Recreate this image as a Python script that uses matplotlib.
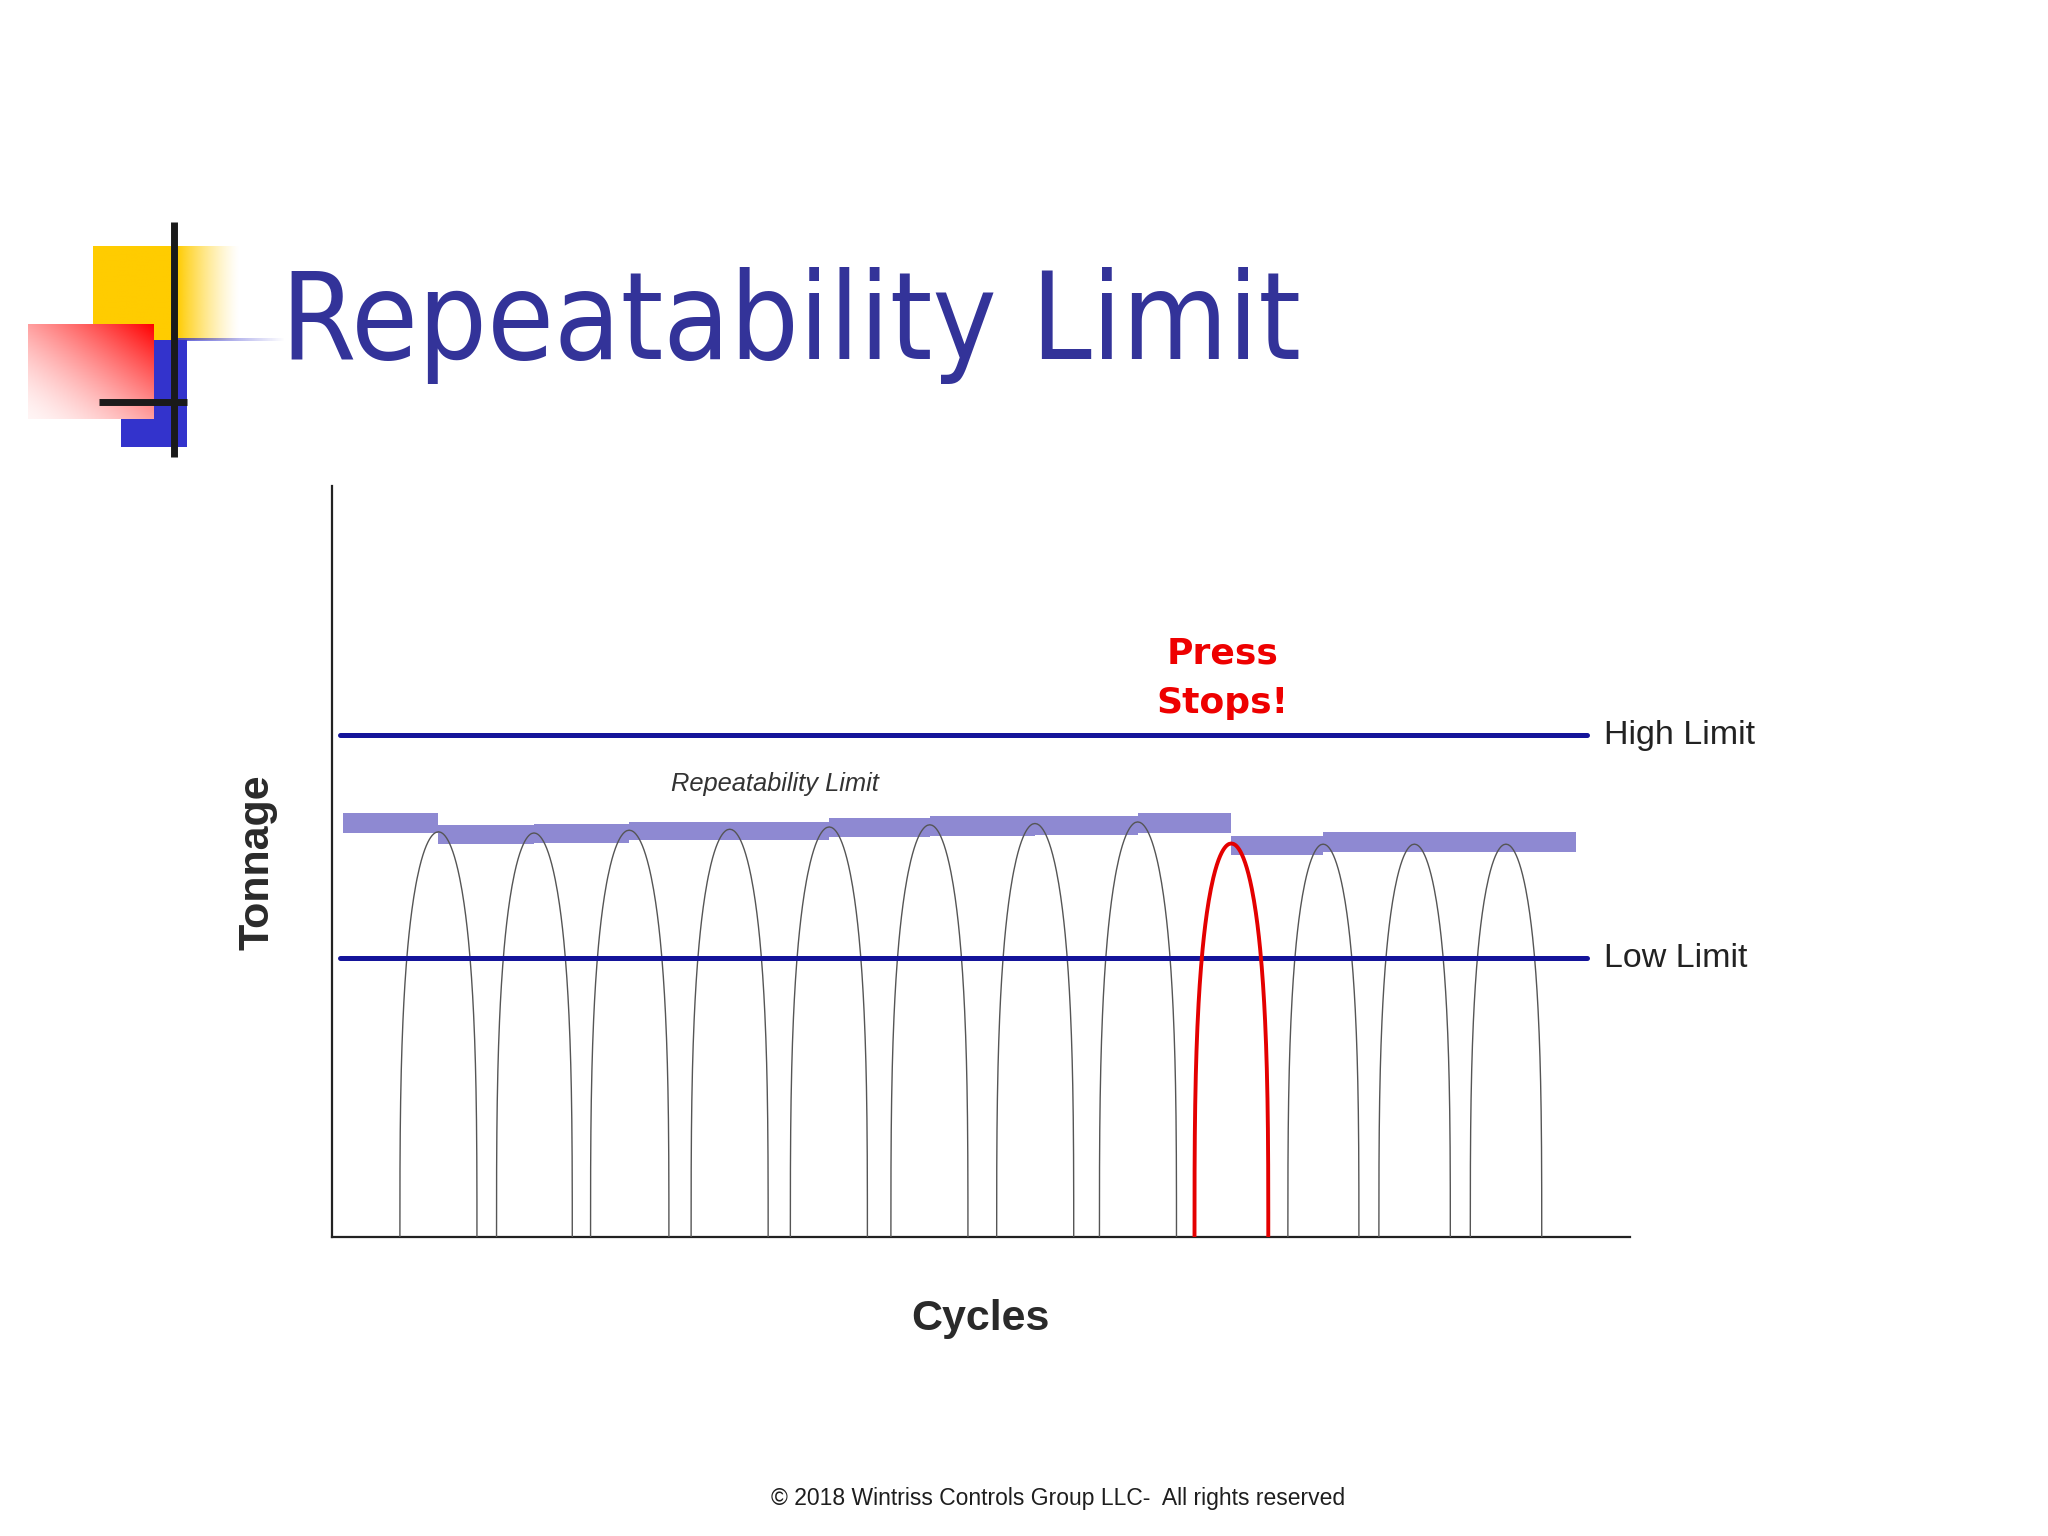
import numpy as np
import matplotlib
matplotlib.use("Agg")
import matplotlib.pyplot as plt
from matplotlib.patches import Rectangle

# ---------------- data (x in cycle-axis units, y in tonnage units 0-100) ----------------
curve_left  = [5.2, 12.6, 19.8, 27.5, 35.1, 42.8, 50.9, 58.77, 66.05, 73.2, 80.17, 87.17]
curve_peak_x = [8.15, 15.47, 22.76, 30.46, 38.08, 45.78, 53.83, 61.7, 68.87, 75.9, 82.89, 89.9]
curve_right = [11.1, 18.4, 25.8, 33.4, 41.0, 48.7, 56.8, 64.67, 71.7, 78.64, 85.64, 92.64]
curve_peak  = [53.95, 53.8, 54.17, 54.3, 54.6, 54.89, 55.06, 55.27, 52.4, 52.31, 52.31, 52.31]
stop_index = 8  # cycle on which the press stops (red)

band_x0     = [0.85, 8.15, 15.47, 22.76, 38.08, 45.78, 53.83, 61.7, 68.87, 75.9]
band_x1     = [8.15, 15.47, 22.76, 38.08, 45.78, 53.83, 61.7, 68.87, 75.9, 95.3]
band_top    = [56.42, 54.89, 55.03, 55.32, 55.83, 56.0, 56.12, 56.4, 53.46, 53.91]
band_bottom = [53.84, 52.31, 52.45, 52.82, 53.32, 53.46, 53.53, 53.77, 50.92, 51.32]

high_limit = 66.78
low_limit = 37.13
limit_x = [0.6, 96.1]

title = "Repeatability Limit"
copyright_text = "\u00a9 2018 Wintriss Controls Group LLC-  All rights reserved"

# ---------------- figure ----------------
W, H = 2048, 1536
fig = plt.figure(figsize=(W / 100, H / 100), dpi=100)
fig.patch.set_facecolor("white")

# decoration layer in pixel coordinates
deco = fig.add_axes([0, 0, 1, 1], zorder=0)
deco.set_axis_off()

def fade(color, amount):
    """opaque blend of white -> color by amount (0..1)"""
    c = np.array(matplotlib.colors.to_rgb(color))
    rgb = 1 - amount[..., None] * (1 - c)
    return rgb

def grad(color, alpha):
    rgba = np.zeros(alpha.shape + (4,))
    rgba[..., :3] = matplotlib.colors.to_rgb(color)
    rgba[..., 3] = alpha
    return rgba

# yellow square with fade to the right
xs = np.linspace(93, 240, 300)
a = np.clip((240 - xs) / (240 - 177), 0, 1)
a = np.where(xs < 177, 1.0, a ** 1.3)
deco.imshow(grad("#ffcc00", np.tile(a, (10, 1))), extent=(93, 240, 340, 246),
            aspect="auto", interpolation="bilinear", zorder=1)
# thin blue line fading right
xs2 = np.linspace(0, 1, 200)
deco.imshow(grad("#3333cc", np.tile(1 - xs2, (3, 1)) * 0.8), extent=(177, 285, 341.5, 339),
            aspect="auto", interpolation="bilinear", zorder=1)
# blue rectangle
deco.add_patch(Rectangle((121, 340), 66, 107, facecolor="#3333cc", edgecolor="none", zorder=2))
# red gradient rectangle (opaque, white -> red towards top-right)
u = np.linspace(0, 1, 200)[None, :]
v = np.linspace(0, 1, 160)[:, None]
ra = np.clip(0.04 + 0.96 * ((u + (1 - v)) / 2) ** 1.5, 0, 1)
deco.imshow(fade("#ff0000", ra), extent=(28, 154, 419, 324),
            aspect="auto", interpolation="bilinear", zorder=3)
# black lines
deco.plot([174, 174], [222, 457], color="#1a1a1a", lw=5.0, solid_capstyle="butt", zorder=4)
deco.plot([99, 187], [402, 402], color="#1a1a1a", lw=5.0, solid_capstyle="butt", zorder=4)
deco.set_xlim(0, W)
deco.set_ylim(H, 0)

# title and footer
fig.text(281 / W, 1 - 359 / H, title, fontsize=87, color="#333399",
         family="DejaVu Sans", fontstretch="condensed", va="baseline", ha="left")
fig.text(1058 / W, 1 - 1498 / H, copyright_text, fontsize=16.5, color="#1e1e1e",
         family="Liberation Sans", va="center", ha="center")

# ---------------- chart ----------------
ax = fig.add_axes([332 / W, 1 - 1237 / H, (1630 - 332) / W, (1237 - 486) / H], zorder=2)
ax.set_facecolor("none")
ax.set_xlim(0, 99.4)
ax.set_ylim(0, 100)
for s in ["top", "right"]:
    ax.spines[s].set_visible(False)
for s in ["left", "bottom"]:
    ax.spines[s].set_linewidth(1.6)
    ax.spines[s].set_color("#222222")
ax.set_xticks([])
ax.set_yticks([])

# repeatability band
for x0, x1, t, b in zip(band_x0, band_x1, band_top, band_bottom):
    ax.add_patch(Rectangle((x0, b), x1 - x0, t - b, facecolor="#8e89d2",
                           edgecolor="none", zorder=2))

# tonnage curves
r = np.concatenate([np.linspace(0, 0.9, 60), np.linspace(0.9, 1, 80)[1:]])
prof = np.sqrt(1 - r ** 3)
for i, (xl, xp, xr, h) in enumerate(zip(curve_left, curve_peak_x, curve_right, curve_peak)):
    xx = np.concatenate([xp - (xp - xl) * prof, (xp + (xr - xp) * prof)[::-1]])
    yy = np.concatenate([r * h, (r * h)[::-1]])
    if i == stop_index:
        ax.plot(xx, yy, color="#e40000", lw=2.8, zorder=5)
    else:
        ax.plot(xx, yy, color="#555555", lw=1.0, zorder=3)

# limits
for y in (high_limit, low_limit):
    ax.plot(limit_x, [y, y], color="#14149a", lw=3.6, solid_capstyle="round", zorder=4)
ax.text(97.4, high_limit, "High Limit", fontsize=24.5, color="#222222",
        family="Liberation Sans", va="center", ha="left", clip_on=False)
ax.text(97.4, low_limit, "Low Limit", fontsize=24.5, color="#222222",
        family="Liberation Sans", va="center", ha="left", clip_on=False)
ax.text(33.9, 60.35, "Repeatability Limit", fontsize=18.4, color="#333333",
        family="Liberation Sans", style="italic", va="center", ha="center")
ax.text(68.2, 74.4, "Press\nStops!", fontsize=26, color="#ee0000",
        family="DejaVu Sans", fontweight="bold", va="center", ha="center",
        linespacing=1.6)

fig.text(980 / W, 1 - 1319 / H, "Cycles", fontsize=31, fontweight="bold",
         color="#2a2a2a", family="Liberation Sans", ha="center", va="center")
fig.text(258 / W, 1 - 862 / H, "Tonnage", fontsize=31, fontweight="bold",
         color="#2a2a2a", family="Liberation Sans", ha="center", va="center",
         rotation=90)

fig.savefig("out.png", dpi=100, facecolor="white")
